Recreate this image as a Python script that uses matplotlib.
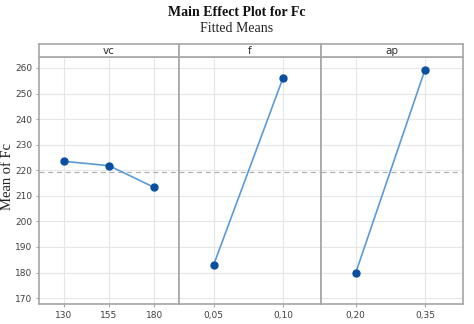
import matplotlib
matplotlib.use("Agg")
import matplotlib.pyplot as plt

factors = ["vc", "f", "ap"]
levels_vc = ["130", "155", "180"]
means_vc = [223.5, 221.8, 213.3]
levels_f = ["0,05", "0,10"]
means_f = [183.0, 256.0]
levels_ap = ["0,20", "0,35"]
means_ap = [179.8, 259.2]
grand_mean = 219.5
yticks = [170, 180, 190, 200, 210, 220, 230, 240, 250, 260]

W, H = 474, 324
fig = plt.figure(figsize=(W / 100, H / 100), dpi=100)

line_c = "#5b9bd5"
mark_c = "#0a4fa0"
frame_c = "#a6a6a6"
grid_c = "#e6e6e6"
tick_c = "#404040"
serif = ["Liberation Serif", "DejaVu Serif"]

panels = [(39, 179, levels_vc, means_vc), (179, 321, levels_f, means_f), (321, 463, levels_ap, means_ap)]
top_strip, top_plot, bottom = 44, 57, 304

for i, (x0, x1, levels, means) in enumerate(panels):
    ax = fig.add_axes([x0 / W, 1 - bottom / H, (x1 - x0) / W, (bottom - top_plot) / H])
    xs = list(range(1, len(levels) + 1))
    ax.axhline(grand_mean, color="#b0b0b0", ls=(0, (4, 3)), lw=0.9, zorder=1)
    ax.plot(xs, means, color=line_c, lw=1.2, zorder=2)
    ax.plot(xs, means, "o", color=mark_c, ms=5, zorder=3)
    if len(levels) == 3:
        ax.set_xlim(0.45, 3.55)
    else:
        ax.set_xlim(0.5, 2.55)
    ax.set_ylim(167.7, 264.3)
    ax.set_xticks(xs)
    ax.set_xticklabels(levels)
    ax.set_yticks(yticks)
    ax.grid(True, color=grid_c, lw=0.8)
    ax.set_axisbelow(True)
    for s in ax.spines.values():
        s.set_color(frame_c)
        s.set_linewidth(1.2)
    ax.tick_params(axis="both", colors=frame_c, labelcolor=tick_c, labelsize=6.5, length=2.5, width=0.8, pad=2.5)
    if i > 0:
        ax.tick_params(axis="y", left=False, labelleft=False)
    sax = fig.add_axes([x0 / W, 1 - top_plot / H, (x1 - x0) / W, (top_plot - top_strip) / H])
    sax.set_xticks([]); sax.set_yticks([])
    sax.set_facecolor("white")
    for s in sax.spines.values():
        s.set_color(frame_c)
        s.set_linewidth(1.2)
    sax.text(0.5, 0.45, factors[i], ha="center", va="center", fontsize=7.5, color="#303030", transform=sax.transAxes)

fig.text(8 / W, 1 - 177 / H, "Mean of Fc", rotation=90, ha="center", va="center", family=serif, fontsize=10.5, color="#202020")
fig.text(0.5, 1 - 13 / H, "Main Effect Plot for Fc", ha="center", va="center", family=serif, fontsize=10, fontweight="bold", color="#111111")
fig.text(0.5, 1 - 29 / H, "Fitted Means", ha="center", va="center", family=serif, fontsize=10, color="#222222")

fig.savefig("out.png", dpi=100)
